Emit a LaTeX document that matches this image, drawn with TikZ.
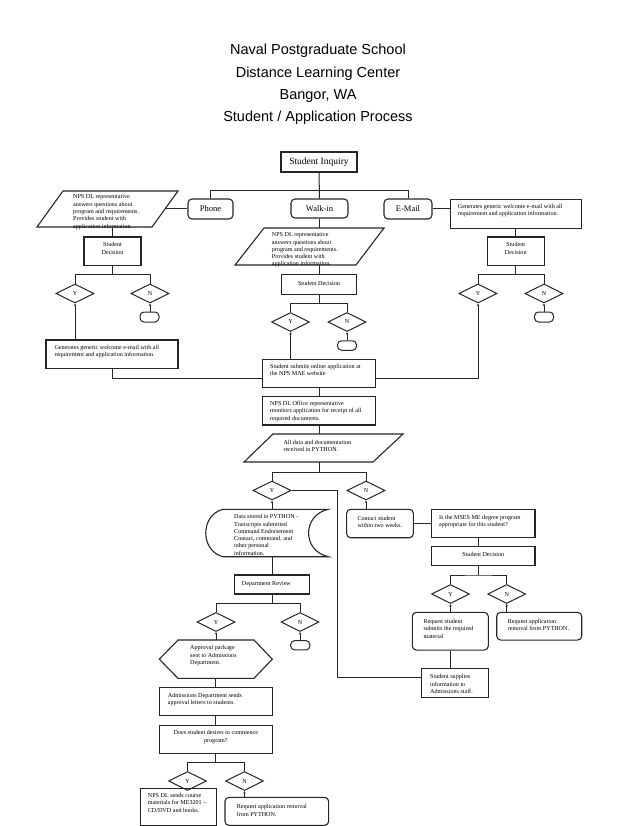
\documentclass[tikz,border=0pt]{standalone}
\usepackage{fontspec}
\setmainfont{Liberation Serif}
\newfontfamily\titlefont{Liberation Sans}
\usetikzlibrary{shapes.geometric,arrows.meta,calc}
\newcommand\smtxt{\fontsize{6.1pt}{7.3pt}\selectfont}
\begin{document}
\begin{tikzpicture}[x=1pt,y=-1pt,
 ln/.style={draw=black!85, line width=1pt},
 tipln/.style={ln, -{Stealth[length=2.6pt,width=2.4pt]}},
 box/.style={draw=black!85, line width=1.1pt, rectangle, inner sep=0pt},
 rbox/.style={box, rounded corners=4pt},
 dia/.style={draw=black!85, line width=1pt, diamond, inner sep=0pt, minimum width=38pt, minimum height=19pt, font=\smtxt},
 ghost/.style={inner sep=0pt, rectangle},
 shp/.style={draw=black!85, line width=1.1pt},
 txt/.style={inner sep=0pt, align=left, font=\smtxt, anchor=west},
 ctxt/.style={inner sep=0pt, align=center, font=\smtxt},
 ttl/.style={inner sep=0pt, font=\titlefont\fontsize{14.5pt}{17pt}\selectfont},
 term/.style={draw=black!85, line width=1pt, rounded corners=4pt, minimum width=19pt, minimum height=10pt, inner sep=0pt},
 big/.style={font=\fontsize{8.5pt}{10pt}\selectfont},
]
\useasboundingbox (0,0) rectangle (638,826);

% titles
\node[ttl] (t1) at (318,51) {Naval Postgraduate School};
\node[ttl] (t2) at (318,74) {Distance Learning Center};
\node[ttl] (t3) at (318,96) {Bangor, WA};
\node[ttl] (t4) at (318,118) {Student / Application Process};

% top level
\node[box, minimum width=76pt, minimum height=20pt, font=\fontsize{9.5pt}{11pt}\selectfont] (inq) at (319,162) {Student Inquiry};
\node[rbox, big, minimum width=45pt, minimum height=20pt] (phone) at (210.5,209) {Phone};
\node[rbox, big, minimum width=57pt, minimum height=19pt] (walkin) at (319.5,208.5) {Walk-in};
\node[rbox, big, minimum width=48pt, minimum height=20pt] (email) at (408,209) {E-Mail};
\coordinate (hb) at (319,191);

% left parallelogram
\node[ghost, minimum width=141pt, minimum height=36pt] (p1) at (107.5,209) {};
\draw[shp] (63,191) -- (178,191) -- (152,227) -- (37,227) -- cycle;
\node[txt] (p1t) at (73,212.2) {NPS DL representative\\answers questions about\\program and requirements.\\Provides student with\\application information.};
\coordinate (p1r) at (165,209);

% walk-in parallelogram
\node[ghost, minimum width=149pt, minimum height=37pt] (p2) at (309.5,246.5) {};
\draw[shp] (264,228) -- (384,228) -- (356,265) -- (235,265) -- cycle;
\node[txt] (p2t) at (271.7,250) {NPS DL representative\\answers questions about\\program and requirements.\\Provides student with\\application information.};

% right generates box
\node[box, minimum width=131.7pt, minimum height=29pt] (gen2) at (516,213.8) {};
\node[txt] (gen2t) at (457.7,210.8) {Generates generic welcome e-mail with all\\requirement and application information.};

% student decisions
\node[box, minimum width=57pt, minimum height=28.7pt] (sd1) at (112.5,251.3) {};
\node[ctxt] (sd1t) at (112.5,248.5) {Student\\Decision};
\node[box, minimum width=56.7pt, minimum height=28.7pt] (sd3) at (515.7,251.3) {};
\node[ctxt] (sd3t) at (515.7,248.5) {Student\\Decision};
\node[box, minimum width=75.7pt, minimum height=19.7pt] (sd2) at (319,284.2) {};
\node[ctxt] (sd2t) at (319,283) {Student Decision};

% diamonds row 1
\node[dia] (y1) at (75,293.5) {Y};
\node[dia] (n1) at (150,293.5) {N};
\node[dia] (y2) at (290.5,322) {Y};
\node[dia] (n2) at (347,322) {N};
\node[dia] (y3) at (478,293.5) {Y};
\node[dia] (n3) at (544,293.5) {N};
\node[term] (e1) at (149.5,317) {};
\node[term, minimum height=9.5pt] (e2) at (347,345.5) {};
\node[term] (e3) at (544,317) {};

\coordinate (b1) at (112.5,274.7);
\coordinate (b2) at (319,303.3);
\coordinate (b3) at (515.7,274.7);

% generates left
\node[box, minimum width=132pt, minimum height=28.7pt] (gen1) at (112,354.3) {};
\node[txt] (gen1t) at (54.3,351.5) {Generates generic welcome e-mail with all\\requirement and application information.};

% submits
\node[box, minimum width=112.3pt, minimum height=28pt] (sub) at (319,373.3) {};
\node[txt] (subt) at (270,370.2) {Student submits online application at\\the NPS MAE website};
\coordinate (subL) at (263,378);
\coordinate (subR) at (375.3,378);

\node[box, minimum width=112.7pt, minimum height=28.3pt] (off) at (319,410.8) {};
\node[txt] (offt) at (270,411.3) {NPS DL Office representative\\monitors application for receipt of all\\required documents.};

% all data parallelogram
\node[ghost, minimum width=159pt, minimum height=28pt] (p3) at (323.5,448) {};
\draw[shp] (273,434) -- (403,434) -- (373,462) -- (244,462) -- cycle;
\node[txt] (p3t) at (283.3,445.7) {All data and documentation\\received in PYTHON.};
\coordinate (b4) at (319,472.3);

\node[dia] (y4) at (272,490.5) {Y};
\node[dia] (n4) at (366,490.5) {N};

% data stored shape
\node[ghost, minimum width=122.3pt, minimum height=47.4pt] (data) at (267,533) {};
\draw[shp] (223,509.3) -- (328.3,509.3) .. controls (302,515) and (302,551) .. (328.3,556.7) -- (223,556.7) .. controls (200,551) and (200,515) .. (223,509.3);
\node[txt] (datat) at (234,534.9) {Data stored in PYTHON -\\Transcripts submitted\\Command Endorsement\\Contact, command, and\\other personal\\information.};

% right column
\node[rbox, minimum width=66.7pt, minimum height=28.4pt] (cont) at (380,523.5) {};
\node[txt] (contt) at (357.3,522) {Contact student\\within two weeks.};
\node[box, minimum width=103.3pt, minimum height=28.4pt] (mses) at (483.3,523.5) {};
\node[txt] (msest) at (439,521.2) {Is the MSES ME degree program\\appropriate for this student?};
\node[box, minimum width=103.3pt, minimum height=19pt] (sd4) at (483.3,556.2) {};
\node[ctxt] (sd4t) at (483.3,554.3) {Student Decision};
\coordinate (b5) at (478.3,575);
\node[dia] (y5) at (450.5,594) {Y};
\node[dia] (n5) at (506.7,594) {N};
\node[rbox, minimum width=76pt, minimum height=37.7pt] (rqs) at (450.3,631.2) {};
\node[txt] (rqst) at (423.3,628.8) {Request student\\submits the required\\material};
\node[rbox, minimum width=85pt, minimum height=27.7pt] (rqr) at (539.2,626.2) {};
\node[txt] (rqrt) at (507.7,625) {Request application\\removal from PYTHON.};
\node[box, minimum width=66.7pt, minimum height=29pt] (sup) at (455,682.8) {};
\node[txt] (supt) at (430,684) {Student supplies\\information to\\Admissions staff.};
\coordinate (supL) at (421.7,677.7);
\coordinate (k1) at (337.5,677.7);

% left-lower column
\node[box, minimum width=75.7pt, minimum height=19pt] (dept) at (272,584.5) {};
\node[txt] (deptt) at (241.7,584) {Department Review};
\coordinate (b6) at (272,603.3);
\node[dia] (y6) at (216,622) {Y};
\node[dia] (n6) at (300,622) {N};
\node[term, minimum width=19.3pt, minimum height=9.3pt] (e6) at (300.3,645.3) {};

\node[ghost, minimum width=113pt, minimum height=38.3pt] (appr) at (215.8,659.2) {};
\draw[shp] (159.3,659.2) -- (178,640) -- (254,640) -- (272.3,659.2) -- (254,678.3) -- (178,678.3) -- cycle;
\node[txt] (apprt) at (190,655.7) {Approval package\\sent to Admissions\\Department.};

\node[box, minimum width=113pt, minimum height=28pt] (adm) at (215.8,701.7) {};
\node[txt] (admt) at (167.7,699.4) {Admissions Department sends\\approval letters to students.};
\node[box, minimum width=113pt, minimum height=27.7pt] (does) at (215.8,739.5) {};
\node[ctxt] (doest) at (215.8,737) {Does student desires to commence\\program?};
\coordinate (b7) at (215.8,762.3);
\node[dia] (y7) at (187.5,781) {Y};
\node[dia] (n7) at (244.5,781) {N};
\node[box, minimum width=76pt, minimum height=37pt] (nps) at (178.7,806.8) {};
\node[txt] (npst) at (147.7,802.7) {NPS DL sends course\\materials for ME3201 --\\CD/DVD and books.};
\node[rbox, minimum width=103.7pt, minimum height=28pt] (rqb) at (276.8,811.3) {};
\node[txt] (rqbt) at (236.7,810.5) {Request application removal\\from PYTHON.};

% ---------------- connectors ----------------
\draw[ln] (inq.south) -- (walkin.north);
\draw[ln] (phone.north) -- (phone.north |- hb) -- (email.north |- hb) -- (email.north);
\draw[ln] (phone.west) -- (p1r);
\draw[ln] (email.east) -- (email.east -| gen2.west);
\draw[ln] (walkin.south) -- (walkin.south |- p2.north);
\draw[ln] (sd1.north |- p1.south) -- (sd1.north);
\draw[ln] (sd2.north |- p2.south) -- (sd2.north);
\draw[ln] (gen2.south -| sd3.north) -- (sd3.north);

\draw[ln] (sd1.south) -- (b1);
\draw[ln] (y1.north) |- (b1) -| (n1.north);
\draw[ln] (sd2.south) -- (b2);
\draw[ln] (y2.north) |- (b2) -| (n2.north);
\draw[ln] (sd3.south) -- (b3);
\draw[ln] (y3.north) |- (b3) -| (n3.north);

\draw[tipln] (n1.south |- e1.north) -- (n1.south);
\draw[tipln] (n2.south |- e2.north) -- (n2.south);
\draw[tipln] (n3.south |- e3.north) -- (n3.south);

\draw[tipln] (y1.south |- gen1.north) -- (y1.south);
\draw[tipln] (y2.south |- sub.north) -- (y2.south);
\draw[tipln] (subR) -| (y3.south);
\draw[ln] (gen1.south) |- (subL);

\draw[ln] (sub.south) -- (off.north);
\draw[ln] (off.south) -- (off.south |- p3.north);
\draw[ln] (off.south |- p3.south) -- (b4);
\draw[ln] (y4.north) |- (b4) -| (n4.north);

\draw[tipln] (y4.south |- data.north) -- (y4.south);
\draw[ln] (y4.east) -| (k1) -- (supL);
\draw[tipln] (n4.south |- cont.north) -- (n4.south);
\draw[ln] (cont.east) -- (mses.west);
\draw[ln] (mses.south -| b5) -- (sd4.north -| b5);
\draw[ln] (sd4.south -| b5) -- (b5);
\draw[ln] (y5.north) |- (b5) -| (n5.north);
\draw[tipln] (y5.south |- rqs.north) -- (y5.south);
\draw[tipln] (n5.south |- rqr.north) -- (n5.south);
\draw[ln] (rqs.south) -- (rqs.south |- sup.north);

\draw[ln] (dept.north |- data.south) -- (dept.north);
\draw[ln] (dept.south) -- (b6);
\draw[ln] (y6.north) |- (b6) -| (n6.north);
\draw[tipln] (n6.south |- e6.north) -- (n6.south);
\draw[tipln] (y6.south |- appr.north) -- (y6.south);
\draw[ln] (appr.south) -- (adm.north);
\draw[ln] (adm.south) -- (does.north);
\draw[ln] (does.south) -- (b7);
\draw[ln] (y7.north) |- (b7) -| (n7.north);
\draw[tipln] (n7.south |- rqb.north) -- (n7.south);
\end{tikzpicture}
\end{document}
